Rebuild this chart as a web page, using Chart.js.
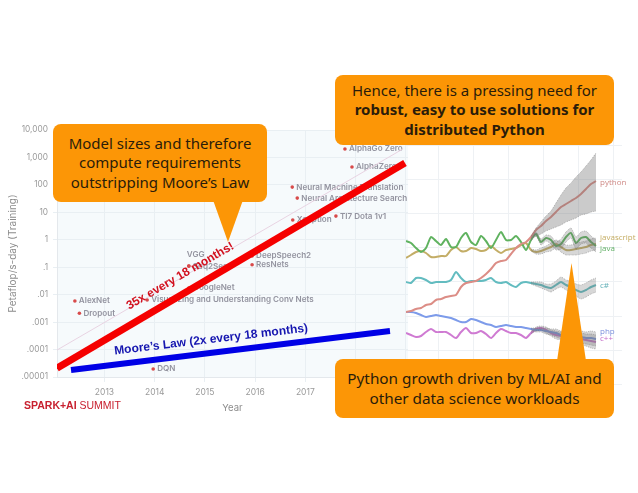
<!DOCTYPE html>
<html><head><meta charset="utf-8">
<script src="https://cdn.jsdelivr.net/npm/chart.js@4"></script>
<style>
html,body{margin:0;padding:0;background:#fff;width:638px;height:493px;overflow:hidden}
canvas{position:absolute;left:0;top:0}
.box{position:absolute;background:#fc9606;border-radius:8px;color:#2a1c0a;font-family:"Noto Sans",sans-serif;font-size:15px;line-height:19.5px;text-align:center;display:flex;flex-direction:column;justify-content:center}
.tail{position:absolute;background:#fc9606}
.rot{position:absolute;font-family:"Liberation Sans",sans-serif;font-weight:700;white-space:nowrap;transform-origin:center}
#logo{position:absolute;left:24px;top:399px;font-family:"Liberation Sans",sans-serif;font-size:10.5px;color:#c8202f;white-space:nowrap}
#logo b{font-weight:700}
</style></head><body>
<canvas id="left" width="638" height="493"></canvas>
<canvas id="right" width="638" height="493"></canvas>
<div class="rot" style="left:119px;top:269px;width:120px;text-align:center;color:#d2101e;font-size:12px;transform:rotate(-30.3deg)">35x every 18 months!</div>
<div class="rot" style="left:111px;top:332px;width:200px;text-align:center;color:#1616b0;font-size:12px;transform:rotate(-6.8deg)">Moore’s Law (2x every 18 months)</div>
<div class="tail" style="left:213px;top:200px;width:30px;height:42px;clip-path:polygon(0 0,100% 0,50% 100%)"></div>
<div class="box" style="left:53px;top:124px;width:214px;height:78px"><div>Model sizes and therefore</div><div>compute requirements</div><div>outstripping Moore’s Law</div></div>
<div class="box" style="left:335px;top:75px;width:279px;height:70px"><div>Hence, there is a pressing need for</div><div><b>robust, easy to use solutions for</b></div><div><b>distributed Python</b></div></div>
<div class="tail" style="left:557px;top:263px;width:29px;height:98px;clip-path:polygon(50% 0,100% 100%,0 100%)"></div>
<div class="box" style="left:335px;top:359px;width:279px;height:59px;font-size:15.3px"><div>Python growth driven by ML/AI and</div><div>other data science workloads</div></div>
<div id="logo"><b>SPARK+AI</b> SUMMIT</div>
<script>
// ---- left chart: training compute vs. year ----
const yTickValues = [1e4,1e3,100,10,1,.1,.01,.001,.0001,.00001];
const yTickLabels = ["10,000","1,000","100","10","1",".1",".01",".001",".0001",".00001"];
const xYears = [2013,2014,2015,2016,2017,2018,2019];
const modelNames = ["AlexNet","Dropout","DQN","Visualizing and Understanding Conv Nets","GoogleNet","Seq2Seq","VGG","DeepSpeech2","ResNets","Xception","TI7 Dota 1v1","Neural Machine Translation","Neural Architecture Search","AlphaZero","AlphaGo Zero"];
const modelYears = [2012.41,2012.50,2013.97,2013.85,2014.68,2014.68,2014.68,2015.94,2015.94,2016.75,2017.61,2016.74,2016.84,2017.93,2017.79];
const modelCompute = [.0059,.0021,.0000195,.0064,.0175,.11,.11,.256,.123,5.24,7.3,83,33,447,2024];
const trend35xYears = [2012.054,2018.986];
const trend35xValues = [.000021,625];
const mooreYears = [2012.333,2018.687];
const mooreValues = [.000018,.000474];
const thinYears = [2012.054,2018.94];
const thinValues = [.000096,2020];

// ---- right chart: language trend index ----
const trendSteps = [0,1,2,3,4,5,6,7,8,9,10,11,12,13,14,15,16,17,18,19,20,21,22,23,24,25,26,27,28,29,30,31,32,33,34,35,36,37,38];
const python = [68,69,71,72,75,76,80,81,83,84,85,93,97,98,99,102,106,111,117,119,120,126,132,136,138,143,150,154,159,163,168,173,176,179,182,186,191,196,199];
const java = [139,137,132,128,132,143,139,135,141,133,133,142,147,138,135,144,139,132,140,148,140,140,144,138,130,140,146,138,142,140,134,136,143,147,137,142,143,138,134];
const javascript = [122,125,128,129,127,123,123,124,124,130,133,129,129,132,131,129,130,134,130,127,130,131,132,135,137,130,128,129,131,133,136,133,130,130,131,132,133,135,136];
const csharp = [98,97,102,102,100,97,98,98,98,100,108,102,98,99,99,99,100,102,98,97,98,95,93,97,98,97,96,95,93,92,95,98,95,93,90,88,90,93,95];
const php = [68,68,67,65,63,64,65,64,63,62,60,58,58,61,60,58,56,55,53,54,55,54,53,53,52,51,50,50,49,48,47,45,44,43,43,43,42,42,41];
const cpp = [47,45,43,44,48,51,48,48,48,45,42,48,52,47,47,49,46,42,47,51,49,47,47,45,42,47,51,52,50,47,45,44,42,42,42,41,40,39,38];
const forecastSteps = [25,26,27,28,29,30,31,32,33,34,35,36,37,38];
const pythonUpper = [144,152,158,164,169,177,185,192,197,203,208,214,220,227];
const pythonLower = [142,144,146,149,151,153,155,158,160,162,165,166,168,169];
const javaSpread = [1,2,3,3,4,4,5,5,5,6,6,6,6,6];
const javascriptSpread = [1,2,3,3,4,4,5,5,5,6,6,6,6,6];
const csharpSpread = [1,2,3,3,4,4,5,5,6,6,7,7,7,7];
const phpSpread = [1,2,2,3,3,4,4,5,5,6,6,6,7,7];
const cppSpread = [1,2,2,3,3,4,4,5,5,6,6,6,7,7];
const seriesNames = ["python","javascript","java","c#","php","c++"];
const seriesLabelLevels = [197,142,131,94,48,41];
const gridSteps = [6.4,13.4,20.4,27.4,34.4,41.4];
const gridLevels = [235,201,167,133,99,64,30,-4];

const FONT = "Inter, sans-serif";
const pts = (xs, ys) => xs.map((x,i)=>({x, y:ys[i]}));

const modelLabelPlugin = {
  id:'modelLabels',
  beforeDatasetsDraw(c){
    const {ctx,chartArea:a,scales:{x,y}} = c;
    ctx.save();
    ctx.fillStyle='#f6fafc'; ctx.globalCompositeOperation='destination-over';
    ctx.fillRect(a.left,a.top,a.width,a.height);
    ctx.globalCompositeOperation='source-over';
    ctx.font='600 8.1px '+FONT;
    ctx.fillStyle='#93939f'; ctx.textBaseline='middle';
    modelNames.forEach((n,i)=>{
      const px=x.getPixelForValue(modelYears[i]), py=y.getPixelForValue(modelCompute[i]);
      if(n==='VGG') ctx.fillText(n,px-2,py-12);
      else ctx.fillText(n,px+4,py);
    });
    ctx.restore();
  }
};

new Chart(document.getElementById('left'),{
  type:'scatter',
  data:{datasets:[
    {data:pts(thinYears,thinValues),showLine:true,borderColor:'#e8d3e2',borderWidth:1,pointRadius:0,order:3},
    {data:pts(modelYears,modelCompute),pointRadius:1.8,pointBackgroundColor:'#d84a4a',pointBorderWidth:0,order:2},
    {data:pts(mooreYears,mooreValues),showLine:true,borderColor:'#0000e6',borderWidth:6,pointRadius:0,order:1},
    {data:pts(trend35xYears,trend35xValues),showLine:true,borderColor:'#f50000',borderWidth:7,pointRadius:0,order:0}
  ]},
  options:{
    responsive:false,animation:false,events:[],
    layout:{padding:{top:130,right:230,bottom:79,left:7}},
    plugins:{legend:{display:false},tooltip:{enabled:false}},
    scales:{
      x:{type:'linear',min:2012.054,max:2019.046,
        afterBuildTicks:s=>{s.ticks=xYears.map(v=>({value:v}));},
        afterFit:s=>{s.height=37;},
        grid:{color:'#e9eff3',tickLength:5},border:{color:'#e4e8ec'},
        ticks:{autoSkip:false,maxRotation:0,color:'#9a9a9a',font:{family:FONT,size:8.5},padding:5,callback:v=>String(v)},
        title:{display:true,text:'Year',color:'#8c8c8c',font:{family:FONT,size:9.5},padding:0}},
      y:{type:'logarithmic',min:.00001,max:10000,
        afterBuildTicks:s=>{s.ticks=yTickValues.map(v=>({value:v}));},
        afterFit:s=>{s.width=50;},
        grid:{color:'#e9eff3',tickLength:4},border:{color:'#e4e8ec'},
        ticks:{autoSkip:false,color:'#9a9a9a',font:{family:FONT,size:8.3},padding:5,
          callback:(v,i)=>yTickLabels[i]},
        title:{display:true,text:'Petaflop/s-day (Training)',color:'#8c8c8c',font:{family:FONT,size:10},padding:0}}
    }
  },
  plugins:[modelLabelPlugin]
});

const seriesLabelPlugin = {
  id:'seriesLabels',
  afterDatasetsDraw(c){
    const {ctx,scales:{x,y}} = c;
    const cols=['#cf8a86','#c4ac62','#62b066','#62b0b8','#7b90dc','#c46cc8'];
    ctx.save(); ctx.font='8px "Open Sans", sans-serif'; ctx.textBaseline='middle';
    seriesNames.forEach((n,i)=>{ctx.fillStyle=cols[i];ctx.fillText(n,x.getPixelForValue(38.8),y.getPixelForValue(seriesLabelLevels[i]));});
    ctx.restore();
  }
};
const line=(data,color)=>({data:pts(trendSteps,data),borderColor:color,borderWidth:2,pointRadius:0,tension:.22,order:2,fill:false});
const band=(up,lo,alpha)=>[
  {data:pts(forecastSteps,up),borderColor:'rgba(110,110,110,.45)',borderWidth:1,borderDash:[1,1],backgroundColor:`rgba(110,110,110,${alpha})`,pointRadius:0,fill:'+1',order:1,tension:.2},
  {data:pts(forecastSteps,lo),borderColor:'rgba(110,110,110,.45)',borderWidth:1,borderDash:[1,1],pointRadius:0,fill:false,order:1,tension:.2}
];
const spreadBand=(vals,sp)=>{
  const tail=vals.slice(-sp.length);
  return band(tail.map((v,i)=>v+sp[i]),tail.map((v,i)=>v-sp[i]),.28);
};
new Chart(document.getElementById('right'),{
  type:'line',
  data:{datasets:[
    line(python,'#dc8d86'),line(java,'#5fb25f'),line(javascript,'#c3ad66'),line(csharp,'#63bcc0'),line(php,'#7d9bea'),line(cpp,'#cf7ad2'),
    ...band(pythonUpper,pythonLower,.36),
    ...spreadBand(java,javaSpread),...spreadBand(javascript,javascriptSpread),...spreadBand(csharp,csharpSpread),...spreadBand(php,phpSpread),...spreadBand(cpp,cppSpread)
  ]},
  options:{
    responsive:false,animation:false,events:[],
    layout:{padding:{top:140,right:16,bottom:108,left:406}},
    plugins:{legend:{display:false},tooltip:{enabled:false}},
    scales:{
      x:{type:'linear',min:0,max:43.2,
        afterBuildTicks:s=>{s.ticks=gridSteps.map(v=>({value:v}));},
        grid:{color:'#eef1f4',drawTicks:false},border:{display:false},ticks:{display:false}},
      y:{type:'linear',min:-5,max:240,
        afterBuildTicks:s=>{s.ticks=gridLevels.map(v=>({value:v}));},
        grid:{color:'#eef1f4',drawTicks:false},border:{display:false},ticks:{display:false}}
    }
  },
  plugins:[seriesLabelPlugin]
});
</script>
</body></html>
